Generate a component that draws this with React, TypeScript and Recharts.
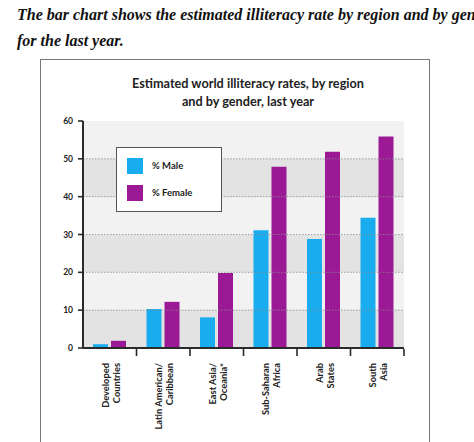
import React from 'react';
import {
  BarChart, Bar, XAxis, YAxis, CartesianGrid, ReferenceLine
} from 'recharts';

const regions = [
  'Developed\nCountries',
  'Latin American/\nCaribbean',
  'East Asia/\nOceania*',
  'Sub-Saharan\nAfrica',
  'Arab\nStates',
  'South\nAsia',
];
const maleRates = [1.0, 10.3, 8.1, 31.1, 28.8, 34.4];
const femaleRates = [1.9, 12.2, 19.8, 47.9, 51.9, 55.9];
const yTicks = [0, 10, 20, 30, 40, 50, 60];
const gridValues = [10, 20, 30, 40, 50];

const data = regions.map((name, i) => ({
  name,
  male: maleRates[i],
  female: femaleRates[i],
}));

const MALE = '#19acef';
const FEMALE = '#9c1995';
const AXIS = '#2a2a2a';
const FONT = 'Lato, "Noto Sans", sans-serif';

// plot area, matches chart margins below
const PLOT_LEFT = 83;
const PLOT_RIGHT = 404;
const BAND = (PLOT_RIGHT - PLOT_LEFT) / regions.length;

const RegionTick = (props: any) => {
  const { x, y, payload } = props;
  const lines = String(payload.value).split('\n');
  return (
    <g transform={`translate(${x},${y})`}>
      <line x1={BAND / 2} x2={BAND / 2} y1={0} y2={-7} stroke={AXIS} strokeWidth={1.6} />
      <text
        transform="rotate(-90)"
        textAnchor="end"
        fontFamily={FONT}
        fontWeight={700}
        fontSize={9.3}
        fill="#222"
      >
        <tspan x={-7} y={-1}>{lines[0]}</tspan>
        <tspan x={-7} y={10}>{lines[1]}</tspan>
      </text>
    </g>
  );
};

const LegendBox = () => (
  <div
    style={{
      position: 'absolute',
      left: 116,
      top: 147,
      width: 104,
      height: 63,
      border: '1px solid #555',
      background: '#fff',
      fontFamily: FONT,
      fontWeight: 700,
      fontSize: 9.5,
      color: '#222',
    }}
  >
    {[{ c: MALE, t: '% Male', top: 10 }, { c: FEMALE, t: '% Female', top: 37 }].map((it) => (
      <div key={it.t}>
        <div style={{ position: 'absolute', left: 10, top: it.top, width: 16, height: 16, background: it.c }} />
        <div style={{ position: 'absolute', left: 35, top: it.top + 3, lineHeight: '10px' }}>{it.t}</div>
      </div>
    ))}
  </div>
);

export default function App() {
  return (
    <div
      style={{
        position: 'absolute',
        left: 0,
        top: 0,
        width: 474,
        height: 442,
        overflow: 'hidden',
        background: '#fff',
      }}
    >
      <div
        style={{
          position: 'absolute',
          left: 17,
          top: 2,
          whiteSpace: 'nowrap',
          fontFamily: '"Liberation Serif", serif',
          fontWeight: 700,
          fontStyle: 'italic',
          fontSize: 16,
          lineHeight: '26px',
          color: '#111',
        }}
      >
        The bar chart shows the estimated illiteracy rate by region and by gender
        <br />
        for the last year.
      </div>

      <div
        style={{
          position: 'absolute',
          left: 40,
          top: 59,
          width: 388,
          height: 400,
          border: '1.5px solid #777',
        }}
      />

      <div
        style={{
          position: 'absolute',
          left: 53,
          top: 74,
          width: 390,
          textAlign: 'center',
          fontFamily: FONT,
          fontWeight: 700,
          fontSize: 12.7,
          lineHeight: '18px',
          color: '#222',
        }}
      >
        Estimated world illiteracy rates, by region
        <br />
        and by gender, last year
      </div>

      <div style={{ position: 'absolute', left: 0, top: 0 }}>
        <BarChart
          width={474}
          height={442}
          data={data}
          margin={{ top: 121, right: 474 - PLOT_RIGHT, left: PLOT_LEFT - 40, bottom: 14 }}
          barSize={15}
          barGap={3}
          barCategoryGap={0}
        >
          <CartesianGrid
            vertical={false}
            horizontalFill={['#f2f2f2', '#e3e3e3']}
            fillOpacity={1}
            stroke="none"
          />
          {gridValues.map((v) => (
            <ReferenceLine key={v} y={v} stroke="#8a8a8a" strokeDasharray="1.5 1.5" strokeWidth={0.8} />
          ))}
          <XAxis
            dataKey="name"
            height={80}
            interval={0}
            tick={<RegionTick />}
            tickLine={false}
            axisLine={{ stroke: AXIS, strokeWidth: 2 }}
          />
          <YAxis
            width={40}
            domain={[0, 60]}
            ticks={yTicks}
            interval={0}
            tickSize={5}
            tickMargin={5}
            tick={{ fontFamily: FONT, fontWeight: 700, fontSize: 8.5, fill: '#222' }}
            tickLine={{ stroke: AXIS, strokeWidth: 1.6 }}
            axisLine={{ stroke: AXIS, strokeWidth: 2 }}
          />
          <Bar dataKey="male" name="% Male" fill={MALE} isAnimationActive={false} />
          <Bar dataKey="female" name="% Female" fill={FEMALE} isAnimationActive={false} />
        </BarChart>
      </div>
      <LegendBox />
    </div>
  );
}
